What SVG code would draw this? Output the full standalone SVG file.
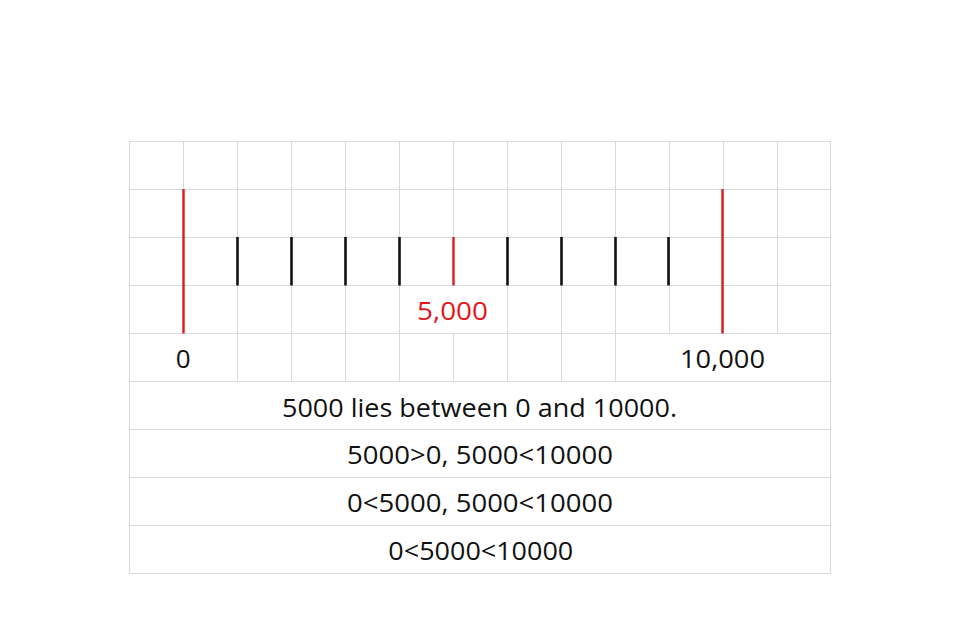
<svg xmlns="http://www.w3.org/2000/svg" width="960" height="630" viewBox="0 0 960 630">
  <style>
    .grid { stroke: #d9d9e2; stroke-width: 1; fill: none; }
    .tick { stroke: #111111; stroke-width: 2.6; }
    .rtick { stroke: #d81e1e; stroke-width: 2.4; }
    .t { font-family: "Open Sans", "Noto Sans", "Liberation Sans", sans-serif; font-size: 26px; fill: #111111; text-anchor: middle; }
    .red { fill: #e3161b; }
  </style>
  <rect width="960" height="630" fill="#ffffff"/>

  <g id="grid" class="grid">
    <rect x="129.5" y="141.5" width="701" height="432"/>
    <path d="M129.5 189.5H830.5M129.5 237.5H830.5M129.5 285.5H830.5M129.5 333.5H830.5M129.5 381.5H830.5M129.5 429.5H830.5M129.5 477.5H830.5M129.5 525.5H830.5"/>
    <!-- columns through the number-line rows -->
    <path d="M183.5 141.5V333.5M237.5 141.5V381.5M291.5 141.5V381.5M345.5 141.5V381.5M399.5 141.5V381.5M453.5 141.5V285.5M453.5 333.5V381.5M507.5 141.5V381.5M561.5 141.5V381.5M615.5 141.5V381.5M669.5 141.5V333.5M723.5 141.5V333.5M777.5 141.5V333.5"/>
  </g>

  <g id="ticks">
    <line id="tick-0" class="rtick" x1="183.5" y1="189" x2="183.5" y2="333.5"/>
    <line id="tick-10000" class="rtick" x1="722.5" y1="189" x2="722.5" y2="333.5"/>
    <line id="tick-5000" class="rtick" x1="453.5" y1="237" x2="453.5" y2="285.5"/>
    <line class="tick" x1="237.5" y1="237" x2="237.5" y2="285.5"/>
    <line class="tick" x1="291.5" y1="237" x2="291.5" y2="285.5"/>
    <line class="tick" x1="345.5" y1="237" x2="345.5" y2="285.5"/>
    <line class="tick" x1="399.5" y1="237" x2="399.5" y2="285.5"/>
    <line class="tick" x1="507.5" y1="237" x2="507.5" y2="285.5"/>
    <line class="tick" x1="561.5" y1="237" x2="561.5" y2="285.5"/>
    <line class="tick" x1="615.5" y1="237" x2="615.5" y2="285.5"/>
    <line class="tick" x1="668.5" y1="237" x2="668.5" y2="285.5"/>
  </g>

  <g id="labels">
    <text id="label-5000" class="t red" x="452.5" y="320.3" textLength="71" lengthAdjust="spacingAndGlyphs">5,000</text>
    <text id="label-0" class="t" x="183.3" y="368.3">0</text>
    <text id="label-10000" class="t" x="722.5" y="368.3" textLength="85" lengthAdjust="spacingAndGlyphs">10,000</text>
  </g>

  <g id="statements">
    <text id="s1" class="t" x="479.5" y="416.7" textLength="395" lengthAdjust="spacingAndGlyphs">5000 lies between 0 and 10000.</text>
    <text id="s2" class="t" x="480" y="463.7" textLength="266" lengthAdjust="spacingAndGlyphs">5000&gt;0, 5000&lt;10000</text>
    <text id="s3" class="t" x="480" y="511.6" textLength="266" lengthAdjust="spacingAndGlyphs">0&lt;5000, 5000&lt;10000</text>
    <text id="s4" class="t" x="480.8" y="559.6" textLength="185" lengthAdjust="spacingAndGlyphs">0&lt;5000&lt;10000</text>
  </g>
</svg>
